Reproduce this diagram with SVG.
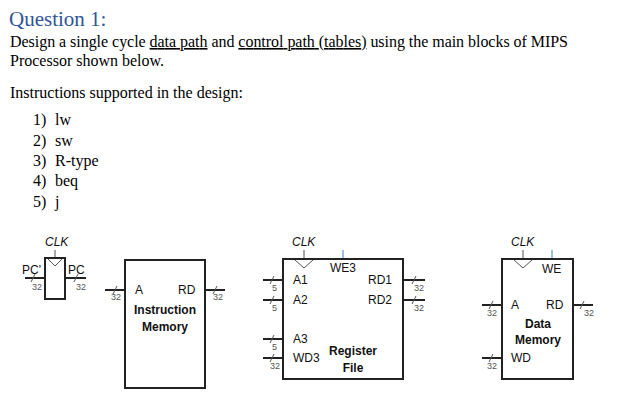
<svg xmlns="http://www.w3.org/2000/svg" width="619" height="417" viewBox="0 0 619 417">
<style>
.t{font-family:"Liberation Serif",serif;font-size:16px;fill:#000}
.h{font-family:"Liberation Serif",serif;font-size:21px;fill:#2f5597}
.s{font-family:"Liberation Sans",sans-serif;font-weight:bold;font-size:12px;fill:#111}
.c{font-family:"Liberation Sans",sans-serif;font-style:italic;font-size:12px;fill:#111}
.w{font-family:"Liberation Sans",sans-serif;font-size:9px;fill:#555}
.box{fill:#fff;stroke:#222;stroke-width:2}
.bus{stroke:#222;stroke-width:2;fill:none}
.thin{stroke:#555;stroke-width:1;fill:none}
.we{stroke:#3a7bd5;stroke-width:1}
</style>
<rect width="619" height="417" fill="#fff"/>
<text class="h" x="9" y="26">Question 1:</text>
<text class="t" x="10" y="47" textLength="558">Design a single cycle <tspan text-decoration="underline">data path</tspan> and <tspan text-decoration="underline">control path (tables)</tspan> using the main blocks of MIPS</text>
<text class="t" x="10" y="66">Processor shown below.</text>
<text class="t" x="10" y="98">Instructions supported in the design:</text>
<g class="t"><text x="33" y="125">1)</text><text x="55" y="125">lw</text>
<text x="33" y="146">2)</text><text x="55" y="146">sw</text>
<text x="33" y="166">3)</text><text x="55" y="166">R-type</text>
<text x="33" y="186">4)</text><text x="55" y="186">beq</text>
<text x="33" y="207">5)</text><text x="55" y="207">j</text></g>

<g id="connectors">
<path class="bus" d="M25 278H45M65 278H86M105 290H125M205 290H225M263 280H283M263 300H283M263 339H283M263 358H283M403 280H425M403 300H425M482 305H502M482 358H502M573 305H593"/>
<path class="thin" d="M55 250V258M304 250V259M523 250V259M31 282L35 274M74 282L78 274M113 294L117 286M213 294L217 286M270 284L274 276M270 304L274 296M270 343L274 335M270 362L274 354M412 284L416 276M412 304L416 296M489 309L493 301M489 362L493 354M580 309L584 301"/>
<path class="we" d="M343 250V259M552 250V259"/>
</g>
<g class="w"><text x="32" y="290">32</text><text x="76" y="290">32</text><text x="111" y="300">32</text><text x="213" y="300">32</text>
<text x="272" y="291">5</text><text x="272" y="311">5</text><text x="272" y="350">5</text><text x="270" y="369">32</text>
<text x="414" y="291">32</text><text x="414" y="311">32</text><text x="487" y="316">32</text><text x="487" y="369">32</text><text x="584" y="316">32</text></g>

<g id="pc">
<rect class="box" x="45" y="258" width="20" height="41"/>
<path class="thin" d="M48 259L55 266L62 259"/>
<text class="c" x="45" y="246">CLK</text>
<text class="s" x="22" y="274" style="font-weight:normal">PC'</text>
<text class="s" x="68" y="274" style="font-weight:normal">PC</text>
</g>
<g id="imem">
<rect class="box" x="125" y="260" width="80" height="128"/>
<text class="s" x="135" y="294" style="font-weight:normal">A</text>
<text class="s" x="178" y="294" style="font-weight:normal">RD</text>
<text class="s" x="165" y="314" text-anchor="middle">Instruction</text>
<text class="s" x="165" y="331" text-anchor="middle">Memory</text>
</g>
<g id="regfile">
<rect class="box" x="283" y="259" width="120" height="120"/>
<path class="thin" d="M295 260L304 268L313 260"/>
<text class="c" x="292" y="246">CLK</text>
<text class="s" x="330" y="272" style="font-weight:normal">WE3</text>
<text class="s" x="293" y="284" style="font-weight:normal">A1</text>
<text class="s" x="293" y="304" style="font-weight:normal">A2</text>
<text class="s" x="293" y="343" style="font-weight:normal">A3</text>
<text class="s" x="293" y="362" style="font-weight:normal">WD3</text>
<text class="s" x="368" y="284" style="font-weight:normal">RD1</text>
<text class="s" x="368" y="304" style="font-weight:normal">RD2</text>
<text class="s" x="353" y="355" text-anchor="middle">Register</text>
<text class="s" x="353" y="372" text-anchor="middle">File</text>
</g>
<g id="dmem">
<rect class="box" x="502" y="259" width="71" height="120"/>
<path class="thin" d="M514 260L523 268L532 260"/>
<text class="c" x="511" y="246">CLK</text>
<text class="s" x="542" y="273" style="font-weight:normal">WE</text>
<text class="s" x="511" y="309" style="font-weight:normal">A</text>
<text class="s" x="546" y="309" style="font-weight:normal">RD</text>
<text class="s" x="538" y="328" text-anchor="middle">Data</text>
<text class="s" x="538" y="344" text-anchor="middle">Memory</text>
<text class="s" x="511" y="362" style="font-weight:normal">WD</text>
</g>
</svg>
